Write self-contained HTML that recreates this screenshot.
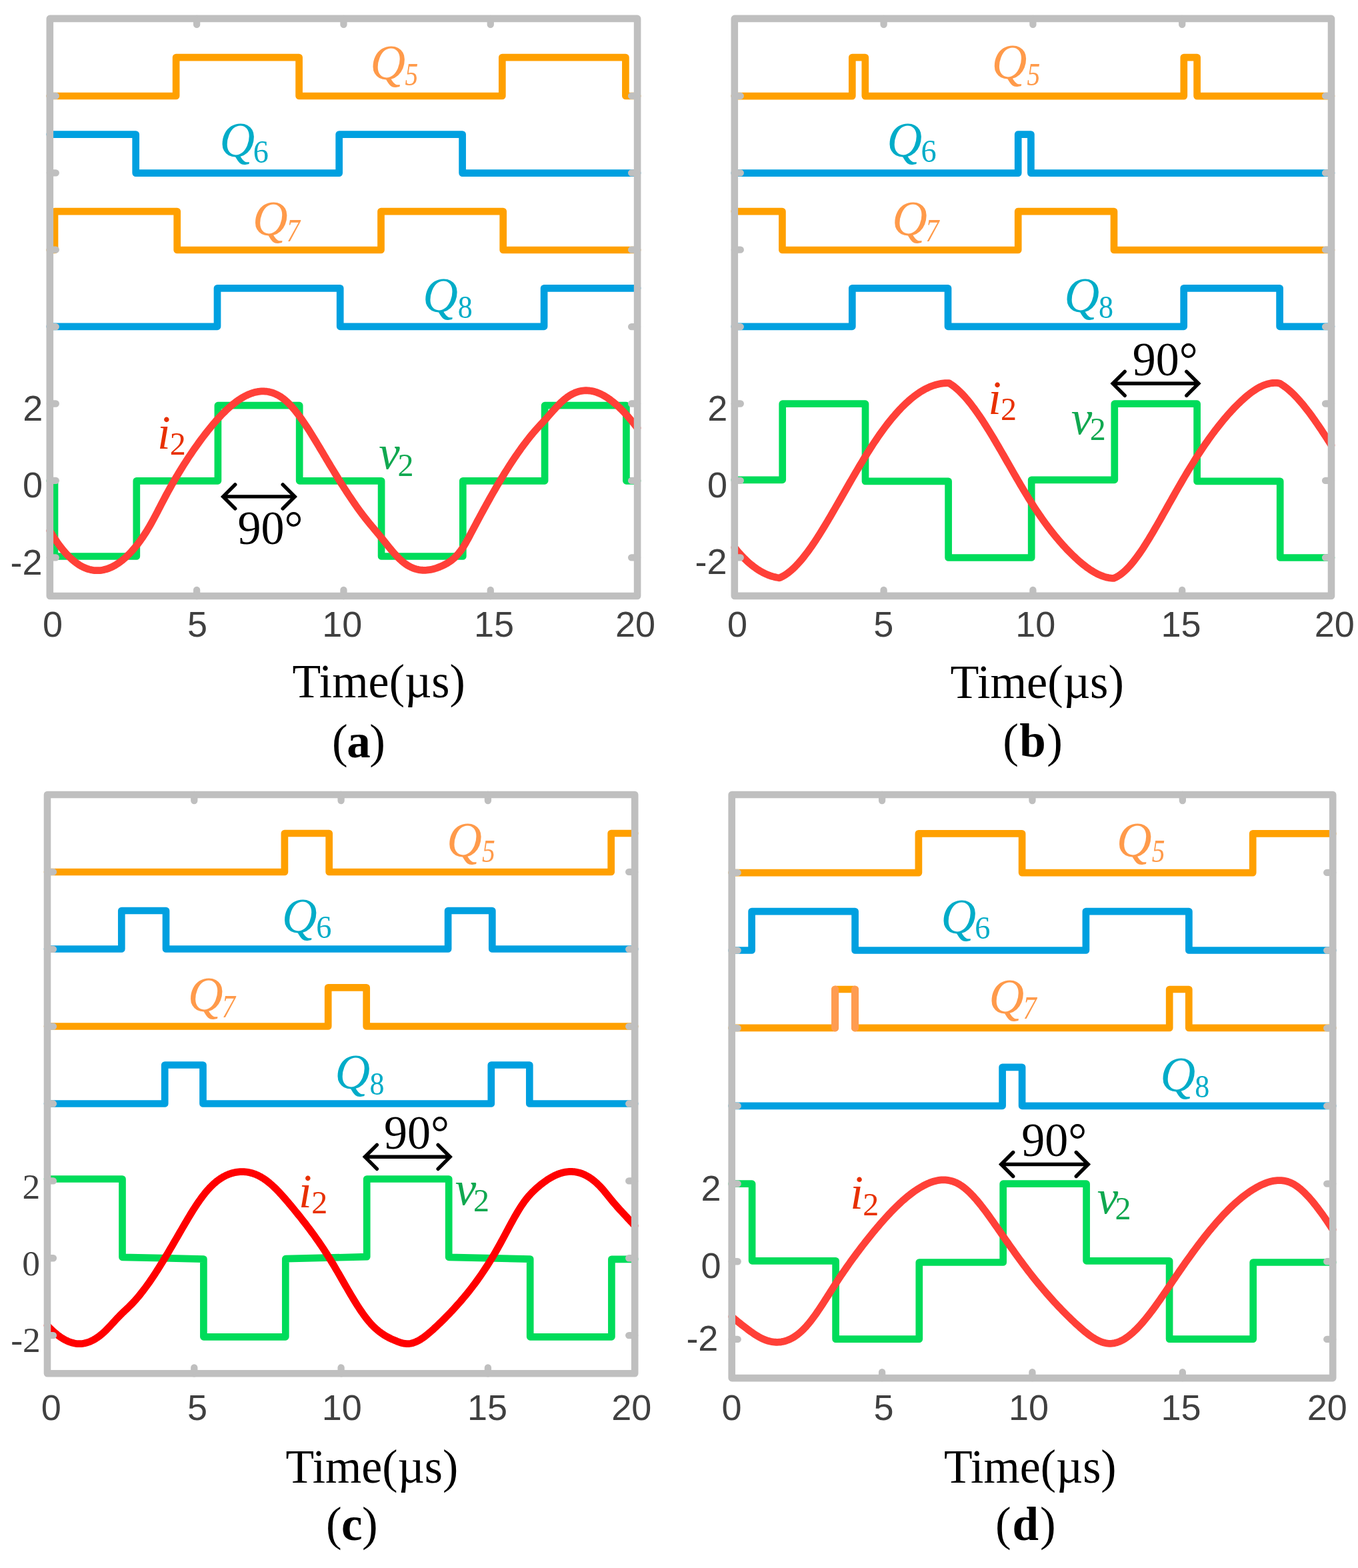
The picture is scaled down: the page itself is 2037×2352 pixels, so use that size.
<!DOCTYPE html>
<html lang="en">
<head>
<meta charset="utf-8">
<title>Waveforms</title>
<style>
html,body{margin:0;padding:0;background:#fff;}
body{width:2037px;height:2352px;overflow:hidden;}
svg{display:block;}
text{white-space:pre;}
</style>
</head>
<body>
<svg width="2037" height="2352" viewBox="0 0 2037 2352">
<rect width="2037" height="2352" fill="#fff"/>
<clipPath id="c1"><rect x="68.5" y="21.6" width="893.9" height="878.7"/></clipPath>
<g clip-path="url(#c1)">
<path d="M74.8 144 L264.1 144 L264.1 86.1 L448.6 86.1 L448.6 144 L753.3 144 L753.3 86.1 L938.4 86.1 L938.4 144 L956.1 144" fill="none" stroke="#ffa000" stroke-width="10.7" stroke-linejoin="round" stroke-linecap="round"/>
<path d="M74.8 201.6 L203.7 201.6 L203.7 259.6 L508.7 259.6 L508.7 201.6 L693.6 201.6 L693.6 259.6 L956.1 259.6" fill="none" stroke="#00a0e0" stroke-width="10.7" stroke-linejoin="round" stroke-linecap="round"/>
<path d="M74.8 375 L82 375 L82 317.1 L265.7 317.1 L265.7 375 L571.5 375 L571.5 317.1 L754.7 317.1 L754.7 375 L956.1 375" fill="none" stroke="#ffa000" stroke-width="10.7" stroke-linejoin="round" stroke-linecap="round"/>
<path d="M74.8 489.8 L326 489.8 L326 432.3 L510.2 432.3 L510.2 489.8 L816.1 489.8 L816.1 432.3 L956.1 432.3" fill="none" stroke="#00a0e0" stroke-width="10.7" stroke-linejoin="round" stroke-linecap="round"/>
<path d="M74.8 721.3 L82 721.3 L82 834.5 L204.8 834.5 L204.8 721.3 L326.9 721.3 L326.9 608.2 L449.2 608.2 L449.2 721.3 L572.1 721.3 L572.1 834.5 L694.3 834.5 L694.3 721.3 L817.1 721.3 L817.1 608.2 L939.4 608.2 L939.4 721.3 L956.1 721.3" fill="none" stroke="#00dc5a" stroke-width="10.7" stroke-linejoin="round" stroke-linecap="round"/>
<path d="M74.8 796.11 L76 798.17 L78 801.49 L80 804.71 L82 807.82 L84 810.84 L86 813.75 L88 816.56 L90 819.27 L92 821.88 L94 824.39 L96 826.8 L98 829.11 L100 831.32 L102 833.43 L104 835.44 L106 837.36 L108 839.18 L110 840.9 L112 842.52 L114 844.05 L116 845.48 L118 846.82 L120 848.06 L122 849.21 L124 850.26 L126 851.22 L128 852.08 L130 852.86 L132 853.54 L134 854.12 L136 854.62 L138 855.02 L140 855.33 L142 855.55 L144 855.68 L146 855.72 L148 855.67 L150 855.54 L152 855.31 L154 854.99 L156 854.59 L158 854.1 L160 853.52 L162 852.85 L164 852.1 L166 851.26 L168 850.34 L170 849.33 L172 848.23 L174 847.06 L176 845.79 L178 844.45 L180 843.02 L182 841.5 L184 839.91 L186 838.23 L188 836.47 L190 834.63 L192 832.7 L194 830.7 L196 828.6 L198 826.43 L200 824.16 L202 821.81 L204 819.37 L206 816.84 L208 814.22 L210 811.51 L212 808.71 L214 805.81 L216 802.82 L218 799.74 L220 796.56 L222 793.29 L224 789.92 L226 786.45 L228 782.88 L230 779.22 L232 775.5 L234 771.71 L236 767.89 L238 764.04 L240 760.17 L242 756.31 L244 752.47 L246 748.66 L248 744.89 L250 741.17 L252 737.49 L254 733.86 L256 730.27 L258 726.72 L260 723.22 L262 719.76 L264 716.34 L266 712.97 L268 709.63 L270 706.34 L272 703.08 L274 699.87 L276 696.69 L278 693.56 L280 690.46 L282 687.4 L284 684.38 L286 681.39 L288 678.45 L290 675.53 L292 672.66 L294 669.82 L296 667.01 L298 664.24 L300 661.5 L302 658.8 L304 656.13 L306 653.49 L308 650.89 L310 648.32 L312 645.78 L314 643.28 L316 640.82 L318 638.4 L320 636.02 L322 633.69 L324 631.39 L326 629.14 L328 626.93 L330 624.77 L332 622.66 L334 620.59 L336 618.58 L338 616.61 L340 614.7 L342 612.84 L344 611.03 L346 609.28 L348 607.59 L350 605.95 L352 604.38 L354 602.86 L356 601.4 L358 600.01 L360 598.68 L362 597.41 L364 596.21 L366 595.08 L368 594.02 L370 593.02 L372 592.09 L374 591.24 L376 590.46 L378 589.75 L380 589.12 L382 588.56 L384 588.08 L386 587.68 L388 587.36 L390 587.13 L392 586.97 L394 586.9 L396 586.92 L398 587.03 L400 587.23 L402 587.52 L404 587.91 L406 588.39 L408 588.97 L410 589.65 L412 590.42 L414 591.31 L416 592.29 L418 593.38 L420 594.58 L422 595.89 L424 597.31 L426 598.84 L428 600.49 L430 602.25 L432 604.12 L434 606.11 L436 608.2 L438 610.39 L440 612.68 L442 615.06 L444 617.53 L446 620.08 L448 622.72 L450 625.43 L452 628.21 L454 631.06 L456 633.98 L458 636.95 L460 639.98 L462 643.06 L464 646.18 L466 649.35 L468 652.56 L470 655.8 L472 659.07 L474 662.37 L476 665.69 L478 669.02 L480 672.37 L482 675.73 L484 679.09 L486 682.46 L488 685.82 L490 689.18 L492 692.52 L494 695.86 L496 699.19 L498 702.51 L500 705.81 L502 709.1 L504 712.37 L506 715.62 L508 718.85 L510 722.07 L512 725.26 L514 728.43 L516 731.57 L518 734.69 L520 737.78 L522 740.84 L524 743.87 L526 746.87 L528 749.83 L530 752.76 L532 755.66 L534 758.52 L536 761.33 L538 764.11 L540 766.85 L542 769.54 L544 772.19 L546 774.79 L548 777.35 L550 779.86 L552 782.34 L554 784.8 L556 787.22 L558 789.63 L560 792.03 L562 794.42 L564 796.82 L566 799.21 L568 801.62 L570 804.05 L572 806.49 L574 808.96 L576 811.45 L578 813.94 L580 816.42 L582 818.89 L584 821.34 L586 823.76 L588 826.13 L590 828.46 L592 830.73 L594 832.93 L596 835.06 L598 837.1 L600 839.05 L602 840.89 L604 842.63 L606 844.24 L608 845.73 L610 847.11 L612 848.36 L614 849.51 L616 850.54 L618 851.47 L620 852.29 L622 853 L624 853.61 L626 854.13 L628 854.55 L630 854.87 L632 855.1 L634 855.25 L636 855.31 L638 855.28 L640 855.17 L642 854.98 L644 854.72 L646 854.38 L648 853.97 L650 853.49 L652 852.94 L654 852.32 L656 851.65 L658 850.91 L660 850.12 L662 849.27 L664 848.37 L666 847.41 L668 846.39 L670 845.28 L672 844.09 L674 842.79 L676 841.39 L678 839.86 L680 838.19 L682 836.38 L684 834.41 L686 832.28 L688 829.97 L690 827.47 L692 824.77 L694 821.85 L696 818.72 L698 815.4 L700 811.91 L702 808.3 L704 804.59 L706 800.82 L708 797.02 L710 793.22 L712 789.44 L714 785.67 L716 781.91 L718 778.18 L720 774.46 L722 770.76 L724 767.08 L726 763.42 L728 759.78 L730 756.16 L732 752.56 L734 748.99 L736 745.44 L738 741.91 L740 738.41 L742 734.94 L744 731.49 L746 728.07 L748 724.68 L750 721.32 L752 717.99 L754 714.7 L756 711.43 L758 708.2 L760 705 L762 701.83 L764 698.7 L766 695.6 L768 692.55 L770 689.53 L772 686.54 L774 683.6 L776 680.7 L778 677.83 L780 675.01 L782 672.22 L784 669.48 L786 666.78 L788 664.13 L790 661.51 L792 658.95 L794 656.42 L796 653.94 L798 651.51 L800 649.12 L802 646.78 L804 644.49 L806 642.25 L808 640.05 L810 637.89 L812 635.74 L814 633.6 L816 631.44 L818 629.25 L820 627.03 L822 624.78 L824 622.52 L826 620.25 L828 617.99 L830 615.75 L832 613.53 L834 611.35 L836 609.22 L838 607.14 L840 605.13 L842 603.2 L844 601.35 L846 599.61 L848 597.96 L850 596.42 L852 594.99 L854 593.66 L856 592.44 L858 591.31 L860 590.3 L862 589.38 L864 588.57 L866 587.87 L868 587.27 L870 586.77 L872 586.37 L874 586.07 L876 585.86 L878 585.76 L880 585.74 L882 585.82 L884 586 L886 586.26 L888 586.61 L890 587.06 L892 587.58 L894 588.2 L896 588.89 L898 589.67 L900 590.54 L902 591.48 L904 592.49 L906 593.59 L908 594.76 L910 596.01 L912 597.33 L914 598.72 L916 600.18 L918 601.71 L920 603.31 L922 604.97 L924 606.7 L926 608.49 L928 610.34 L930 612.26 L932 614.23 L934 616.26 L936 618.35 L938 620.49 L940 622.69 L942 624.94 L944 627.24 L946 629.58 L948 631.98 L950 634.43 L952 636.92 L954 639.45 L956 642.03 L956.1 642.16" fill="none" stroke="#ff4038" stroke-width="10.8" stroke-linejoin="round" stroke-linecap="round"/>
</g>
<path d="M295.12 27.9 V36.9 M295.12 894 V885 M515.45 27.9 V36.9 M515.45 894 V885 M735.77 27.9 V36.9 M735.77 894 V885 M74.8 143.9 H83.8 M956.1 143.9 H947.1 M74.8 259.3 H83.8 M956.1 259.3 H947.1 M74.8 374.7 H83.8 M956.1 374.7 H947.1 M74.8 490.1 H83.8 M956.1 490.1 H947.1 M74.8 605.5 H83.8 M956.1 605.5 H947.1 M74.8 720.9 H83.8 M956.1 720.9 H947.1 M74.8 836.3 H83.8 M956.1 836.3 H947.1" fill="none" stroke="#bfbfbf" stroke-width="10.3" stroke-linecap="round"/>
<rect x="74.8" y="27.9" width="881.3" height="866.1" fill="none" stroke="#bfbfbf" stroke-width="10.6" stroke-linejoin="round"/>
<text x="555.49" y="118.8" font-family='"Liberation Serif","Times New Roman",serif' font-size="73" font-style="italic" fill="#ff9a4a">Q</text>
<text x="607.51" y="127.6" font-family='"Liberation Serif","Times New Roman",serif' font-size="49" font-style="italic" fill="#ff9a4a" textLength="19.67" lengthAdjust="spacingAndGlyphs">5</text>
<text x="329.38" y="234.6" font-family='"Liberation Serif","Times New Roman",serif' font-size="73" font-style="italic" fill="#00acc8">Q</text>
<text x="379.73" y="243.5" font-family='"Liberation Serif","Times New Roman",serif' font-size="49" fill="#00acc8" textLength="23.16" lengthAdjust="spacingAndGlyphs">6</text>
<text x="378.88" y="352.9" font-family='"Liberation Serif","Times New Roman",serif' font-size="73" font-style="italic" fill="#ff9a4a">Q</text>
<text x="429.77" y="362.1" font-family='"Liberation Serif","Times New Roman",serif' font-size="49" font-style="italic" fill="#ff9a4a" textLength="20.21" lengthAdjust="spacingAndGlyphs">7</text>
<text x="634.28" y="468.4" font-family='"Liberation Serif","Times New Roman",serif' font-size="73" font-style="italic" fill="#00acc8">Q</text>
<text x="686.75" y="477.1" font-family='"Liberation Serif","Times New Roman",serif' font-size="49" fill="#00acc8" textLength="22" lengthAdjust="spacingAndGlyphs">8</text>
<text x="235.9" y="673.1" font-family='"Liberation Serif","Times New Roman",serif' font-size="71" font-style="italic" fill="#e83000">i</text>
<text x="254.64" y="682" font-family='"Liberation Serif","Times New Roman",serif' font-size="48" fill="#e83000">2</text>
<text x="568.23" y="703.2" font-family='"Liberation Serif","Times New Roman",serif' font-size="71" font-style="italic" fill="#10a850">v</text>
<text x="596.44" y="713.5" font-family='"Liberation Serif","Times New Roman",serif' font-size="48" fill="#10a850">2</text>
<path d="M334.72 744.9 H442.18 M352.72 726.9 L334.72 744.9 L352.72 762.9 M424.18 726.9 L442.18 744.9 L424.18 762.9" fill="none" stroke="#000" stroke-width="5.4" stroke-linecap="round" stroke-linejoin="miter"/>
<text x="356.43" y="816.4" font-family='"Liberation Serif","Times New Roman",serif' font-size="71.5" fill="#000" textLength="97.97" lengthAdjust="spacingAndGlyphs">90°</text>
<text x="63.9" y="954.7" font-family='"Liberation Sans",Arial,sans-serif' font-size="54" fill="#404040">0</text>
<text x="281.12" y="954.7" font-family='"Liberation Sans",Arial,sans-serif' font-size="54" fill="#404040">5</text>
<text x="483.17" y="954.7" font-family='"Liberation Sans",Arial,sans-serif' font-size="54" fill="#404040">10</text>
<text x="710.99" y="954.7" font-family='"Liberation Sans",Arial,sans-serif' font-size="54" fill="#404040">15</text>
<text x="922.99" y="954.7" font-family='"Liberation Sans",Arial,sans-serif' font-size="54" fill="#404040">20</text>
<text x="34.13" y="631.4" font-family='"Liberation Sans",Arial,sans-serif' font-size="54" fill="#404040">2</text>
<text x="33.95" y="746" font-family='"Liberation Sans",Arial,sans-serif' font-size="54" fill="#404040">0</text>
<text x="15.57" y="861.6" font-family='"Liberation Sans",Arial,sans-serif' font-size="54" fill="#404040">-2</text>
<text x="438.58" y="1046.2" font-family='"Liberation Serif","Times New Roman",serif' font-size="71" fill="#000" textLength="259.11" lengthAdjust="spacingAndGlyphs">Time(µs)</text>
<text y="1135.7" font-family='"Liberation Serif","Times New Roman",serif' font-size="71" fill="#000"><tspan x="498">(</tspan><tspan x="520.23" font-weight="bold">a</tspan><tspan x="554.31">)</tspan></text>
<clipPath id="c2"><rect x="1095.5" y="21.6" width="907.8" height="878.6"/></clipPath>
<g clip-path="url(#c2)">
<path d="M1101.8 144.1 L1278.3 144.1 L1278.3 86.1 L1297.8 86.1 L1297.8 144.1 L1775.8 144.1 L1775.8 86.1 L1795.6 86.1 L1795.6 144.1 L1997 144.1" fill="none" stroke="#ffa000" stroke-width="10.7" stroke-linejoin="round" stroke-linecap="round"/>
<path d="M1101.8 259.6 L1527.2 259.6 L1527.2 201.6 L1546.4 201.6 L1546.4 259.6 L1997 259.6" fill="none" stroke="#00a0e0" stroke-width="10.7" stroke-linejoin="round" stroke-linecap="round"/>
<path d="M1101.8 317.1 L1173.4 317.1 L1173.4 375 L1527.2 375 L1527.2 317.1 L1671 317.1 L1671 375 L1997 375" fill="none" stroke="#ffa000" stroke-width="10.7" stroke-linejoin="round" stroke-linecap="round"/>
<path d="M1101.8 489.8 L1278.3 489.8 L1278.3 432.3 L1422 432.3 L1422 489.8 L1775.7 489.8 L1775.7 432.3 L1919.6 432.3 L1919.6 489.8 L1997 489.8" fill="none" stroke="#00a0e0" stroke-width="10.7" stroke-linejoin="round" stroke-linecap="round"/>
<path d="M1101.8 719.8 L1173.7 719.8 L1173.7 605.7 L1298 605.7 L1298 721.9 L1422.6 721.9 L1422.6 836.5 L1547.2 836.5 L1547.2 719.8 L1671.8 719.8 L1671.8 605.7 L1795.6 605.7 L1795.6 721.9 L1920.2 721.9 L1920.2 836.5 L1997 836.5" fill="none" stroke="#00dc5a" stroke-width="10.7" stroke-linejoin="round" stroke-linecap="round"/>
<path d="M1101.8 821.13 L1101.91 821.27 L1103.89 823.72 L1105.87 826.1 L1107.86 828.41 L1109.84 830.65 L1111.82 832.82 L1113.8 834.92 L1115.78 836.96 L1117.77 838.93 L1119.75 840.83 L1121.73 842.66 L1123.71 844.42 L1125.69 846.12 L1127.68 847.75 L1129.66 849.32 L1131.64 850.81 L1133.62 852.24 L1135.61 853.61 L1137.59 854.91 L1139.57 856.14 L1141.55 857.3 L1143.53 858.4 L1145.52 859.44 L1147.5 860.41 L1149.48 861.31 L1151.46 862.15 L1153.44 862.92 L1155.43 863.63 L1157.41 864.28 L1159.39 864.86 L1161.37 865.37 L1163.35 865.83 L1165.34 866.21 L1167.32 866.54 L1169.3 866.8 L1171.3 865.93 L1173.3 864.94 L1175.3 863.84 L1177.31 862.64 L1179.31 861.32 L1181.31 859.91 L1183.31 858.39 L1185.31 856.77 L1187.31 855.06 L1189.32 853.25 L1191.32 851.35 L1193.32 849.37 L1195.32 847.29 L1197.32 845.14 L1199.32 842.9 L1201.33 840.59 L1203.33 838.2 L1205.33 835.73 L1207.33 833.2 L1209.33 830.59 L1211.33 827.92 L1213.33 825.19 L1215.34 822.4 L1217.34 819.55 L1219.34 816.64 L1221.34 813.68 L1223.34 810.67 L1225.34 807.61 L1227.35 804.5 L1229.35 801.36 L1231.35 798.17 L1233.35 794.94 L1235.35 791.68 L1237.35 788.39 L1239.36 785.06 L1241.36 781.71 L1243.36 778.33 L1245.36 774.93 L1247.36 771.51 L1249.36 768.08 L1251.36 764.62 L1253.37 761.16 L1255.37 757.68 L1257.37 754.2 L1259.37 750.71 L1261.37 747.22 L1263.37 743.72 L1265.38 740.23 L1267.38 736.74 L1269.38 733.25 L1271.38 729.76 L1273.38 726.28 L1275.38 722.81 L1277.39 719.35 L1279.39 715.9 L1281.39 712.46 L1283.39 709.04 L1285.39 705.63 L1287.39 702.25 L1289.39 698.88 L1291.4 695.54 L1293.4 692.21 L1295.4 688.92 L1297.4 685.65 L1299.4 682.4 L1301.4 679.19 L1303.41 676.01 L1305.41 672.87 L1307.41 669.76 L1309.41 666.68 L1311.41 663.65 L1313.41 660.65 L1315.41 657.7 L1317.42 654.79 L1319.42 651.92 L1321.42 649.1 L1323.42 646.32 L1325.42 643.59 L1327.42 640.9 L1329.43 638.26 L1331.43 635.67 L1333.43 633.12 L1335.43 630.62 L1337.43 628.17 L1339.43 625.77 L1341.44 623.41 L1343.44 621.11 L1345.44 618.85 L1347.44 616.65 L1349.44 614.49 L1351.44 612.39 L1353.44 610.34 L1355.45 608.34 L1357.45 606.39 L1359.45 604.5 L1361.45 602.66 L1363.45 600.87 L1365.45 599.14 L1367.46 597.47 L1369.46 595.84 L1371.46 594.28 L1373.46 592.77 L1375.46 591.32 L1377.46 589.92 L1379.47 588.59 L1381.47 587.31 L1383.47 586.09 L1385.47 584.92 L1387.47 583.82 L1389.47 582.78 L1391.47 581.8 L1393.48 580.88 L1395.48 580.02 L1397.48 579.22 L1399.48 578.49 L1401.48 577.81 L1403.48 577.21 L1405.49 576.66 L1407.49 576.18 L1409.49 575.76 L1411.49 575.41 L1413.49 575.13 L1415.49 574.91 L1417.5 574.75 L1419.5 574.67 L1421.5 574.65 L1423.5 574.7 L1425.49 575.92 L1427.48 577.23 L1429.48 578.65 L1431.47 580.16 L1433.46 581.77 L1435.45 583.46 L1437.44 585.25 L1439.44 587.13 L1441.43 589.09 L1443.42 591.13 L1445.41 593.25 L1447.4 595.45 L1449.4 597.72 L1451.39 600.07 L1453.38 602.49 L1455.37 604.98 L1457.36 607.54 L1459.35 610.16 L1461.35 612.84 L1463.34 615.58 L1465.33 618.38 L1467.32 621.23 L1469.31 624.13 L1471.31 627.09 L1473.3 630.09 L1475.29 633.14 L1477.28 636.23 L1479.27 639.37 L1481.27 642.54 L1483.26 645.75 L1485.25 648.99 L1487.24 652.27 L1489.23 655.57 L1491.23 658.9 L1493.22 662.26 L1495.21 665.64 L1497.2 669.04 L1499.19 672.46 L1501.19 675.89 L1503.18 679.34 L1505.17 682.79 L1507.16 686.26 L1509.15 689.73 L1511.15 693.21 L1513.14 696.69 L1515.13 700.17 L1517.12 703.65 L1519.11 707.12 L1521.1 710.58 L1523.1 714.03 L1525.09 717.48 L1527.08 720.9 L1529.07 724.32 L1531.06 727.71 L1533.06 731.08 L1535.05 734.43 L1537.04 737.75 L1539.03 741.04 L1541.02 744.31 L1543.02 747.54 L1545.01 750.73 L1547 753.89 L1548.99 757.01 L1550.98 760.09 L1552.98 763.13 L1554.97 766.14 L1556.96 769.1 L1558.95 772.02 L1560.94 774.91 L1562.94 777.76 L1564.93 780.57 L1566.92 783.33 L1568.91 786.06 L1570.9 788.76 L1572.9 791.41 L1574.89 794.02 L1576.88 796.6 L1578.87 799.13 L1580.86 801.63 L1582.85 804.09 L1584.85 806.51 L1586.84 808.89 L1588.83 811.23 L1590.82 813.53 L1592.81 815.79 L1594.81 818.02 L1596.8 820.2 L1598.79 822.35 L1600.78 824.46 L1602.77 826.53 L1604.77 828.56 L1606.76 830.55 L1608.75 832.51 L1610.74 834.42 L1612.73 836.3 L1614.73 838.14 L1616.72 839.94 L1618.71 841.69 L1620.7 843.41 L1622.69 845.08 L1624.69 846.71 L1626.68 848.29 L1628.67 849.82 L1630.66 851.3 L1632.65 852.72 L1634.65 854.09 L1636.64 855.41 L1638.63 856.66 L1640.62 857.86 L1642.61 859 L1644.6 860.07 L1646.6 861.07 L1648.59 862.01 L1650.58 862.88 L1652.57 863.68 L1654.56 864.41 L1656.56 865.06 L1658.55 865.64 L1660.54 866.14 L1662.53 866.56 L1664.52 866.89 L1666.52 867.15 L1668.51 867.32 L1670.5 867.4 L1672.51 866.58 L1674.51 865.61 L1676.52 864.5 L1678.53 863.26 L1680.54 861.88 L1682.54 860.38 L1684.55 858.76 L1686.56 857.01 L1688.57 855.15 L1690.57 853.18 L1692.58 851.1 L1694.59 848.91 L1696.59 846.63 L1698.6 844.24 L1700.61 841.77 L1702.62 839.2 L1704.62 836.55 L1706.63 833.82 L1708.64 831 L1710.65 828.12 L1712.65 825.16 L1714.66 822.14 L1716.67 819.06 L1718.67 815.92 L1720.68 812.72 L1722.69 809.47 L1724.7 806.17 L1726.7 802.83 L1728.71 799.45 L1730.72 796.04 L1732.73 792.59 L1734.73 789.12 L1736.74 785.62 L1738.75 782.1 L1740.75 778.56 L1742.76 775.01 L1744.77 771.45 L1746.78 767.89 L1748.78 764.32 L1750.79 760.75 L1752.8 757.19 L1754.8 753.62 L1756.81 750.06 L1758.82 746.51 L1760.83 742.97 L1762.83 739.43 L1764.84 735.91 L1766.85 732.4 L1768.86 728.91 L1770.86 725.44 L1772.87 721.98 L1774.88 718.55 L1776.88 715.13 L1778.89 711.75 L1780.9 708.39 L1782.91 705.06 L1784.91 701.75 L1786.92 698.48 L1788.93 695.25 L1790.94 692.04 L1792.94 688.87 L1794.95 685.72 L1796.96 682.62 L1798.96 679.54 L1800.97 676.5 L1802.98 673.49 L1804.99 670.51 L1806.99 667.57 L1809 664.66 L1811.01 661.79 L1813.02 658.95 L1815.02 656.15 L1817.03 653.38 L1819.04 650.65 L1821.04 647.96 L1823.05 645.3 L1825.06 642.68 L1827.07 640.09 L1829.07 637.55 L1831.08 635.04 L1833.09 632.57 L1835.1 630.13 L1837.1 627.74 L1839.11 625.38 L1841.12 623.07 L1843.12 620.79 L1845.13 618.55 L1847.14 616.35 L1849.15 614.2 L1851.15 612.08 L1853.16 610 L1855.17 607.97 L1857.18 605.98 L1859.18 604.02 L1861.19 602.12 L1863.2 600.25 L1865.2 598.43 L1867.21 596.65 L1869.22 594.92 L1871.23 593.24 L1873.23 591.62 L1875.24 590.05 L1877.25 588.54 L1879.25 587.09 L1881.26 585.71 L1883.27 584.39 L1885.28 583.14 L1887.28 581.96 L1889.29 580.86 L1891.3 579.83 L1893.31 578.89 L1895.31 578.02 L1897.32 577.24 L1899.33 576.55 L1901.33 575.95 L1903.34 575.44 L1905.35 575.02 L1907.36 574.71 L1909.36 574.49 L1911.37 574.38 L1913.38 574.37 L1915.39 574.47 L1917.39 574.68 L1919.4 575 L1921.41 576.18 L1923.43 577.45 L1925.44 578.8 L1927.46 580.25 L1929.47 581.78 L1931.49 583.4 L1933.5 585.1 L1935.51 586.87 L1937.53 588.72 L1939.54 590.65 L1941.56 592.65 L1943.57 594.72 L1945.59 596.86 L1947.6 599.07 L1949.61 601.34 L1951.63 603.67 L1953.64 606.06 L1955.66 608.51 L1957.67 611.01 L1959.69 613.57 L1961.7 616.18 L1963.71 618.84 L1965.73 621.54 L1967.74 624.29 L1969.76 627.08 L1971.77 629.92 L1973.79 632.79 L1975.8 635.7 L1977.81 638.64 L1979.83 641.61 L1981.84 644.61 L1983.86 647.64 L1985.87 650.7 L1987.89 653.78 L1989.9 656.88 L1991.91 660 L1993.93 663.14 L1995.94 666.29 L1997 667.95" fill="none" stroke="#ff4038" stroke-width="10.8" stroke-linejoin="round" stroke-linecap="round"/>
</g>
<path d="M1325.6 27.9 V36.9 M1325.6 893.9 V884.9 M1549.4 27.9 V36.9 M1549.4 893.9 V884.9 M1773.2 27.9 V36.9 M1773.2 893.9 V884.9 M1101.8 143.9 H1110.8 M1997 143.9 H1988 M1101.8 259.3 H1110.8 M1997 259.3 H1988 M1101.8 374.7 H1110.8 M1997 374.7 H1988 M1101.8 490.1 H1110.8 M1997 490.1 H1988 M1101.8 605.5 H1110.8 M1997 605.5 H1988 M1101.8 720.9 H1110.8 M1997 720.9 H1988 M1101.8 836.3 H1110.8 M1997 836.3 H1988" fill="none" stroke="#bfbfbf" stroke-width="10.3" stroke-linecap="round"/>
<rect x="1101.8" y="27.9" width="895.2" height="866" fill="none" stroke="#bfbfbf" stroke-width="10.6" stroke-linejoin="round"/>
<text x="1487.78" y="118.3" font-family='"Liberation Serif","Times New Roman",serif' font-size="73" font-style="italic" fill="#ff9a4a">Q</text>
<text x="1540.51" y="127.5" font-family='"Liberation Serif","Times New Roman",serif' font-size="49" font-style="italic" fill="#ff9a4a" textLength="19.67" lengthAdjust="spacingAndGlyphs">5</text>
<text x="1330.58" y="234.6" font-family='"Liberation Serif","Times New Roman",serif' font-size="73" font-style="italic" fill="#00acc8">Q</text>
<text x="1381.43" y="243" font-family='"Liberation Serif","Times New Roman",serif' font-size="49" fill="#00acc8" textLength="23.16" lengthAdjust="spacingAndGlyphs">6</text>
<text x="1338.28" y="352.9" font-family='"Liberation Serif","Times New Roman",serif' font-size="73" font-style="italic" fill="#ff9a4a">Q</text>
<text x="1388.37" y="362.1" font-family='"Liberation Serif","Times New Roman",serif' font-size="49" font-style="italic" fill="#ff9a4a" textLength="20.21" lengthAdjust="spacingAndGlyphs">7</text>
<text x="1596.58" y="468.4" font-family='"Liberation Serif","Times New Roman",serif' font-size="73" font-style="italic" fill="#00acc8">Q</text>
<text x="1647.95" y="477.1" font-family='"Liberation Serif","Times New Roman",serif' font-size="49" fill="#00acc8" textLength="22" lengthAdjust="spacingAndGlyphs">8</text>
<text x="1482.3" y="621" font-family='"Liberation Serif","Times New Roman",serif' font-size="71" font-style="italic" fill="#e83000">i</text>
<text x="1501.04" y="629.5" font-family='"Liberation Serif","Times New Roman",serif' font-size="48" fill="#e83000">2</text>
<text x="1606.63" y="650.7" font-family='"Liberation Serif","Times New Roman",serif' font-size="71" font-style="italic" fill="#10a850">v</text>
<text x="1634.84" y="660.4" font-family='"Liberation Serif","Times New Roman",serif' font-size="48" fill="#10a850">2</text>
<path d="M1669.22 575.3 H1797.78 M1687.22 557.3 L1669.22 575.3 L1687.22 593.3 M1779.78 557.3 L1797.78 575.3 L1779.78 593.3" fill="none" stroke="#000" stroke-width="5.4" stroke-linecap="round" stroke-linejoin="miter"/>
<text x="1698.83" y="562.5" font-family='"Liberation Serif","Times New Roman",serif' font-size="71.5" fill="#000" textLength="97.97" lengthAdjust="spacingAndGlyphs">90°</text>
<text x="1090.9" y="954.9" font-family='"Liberation Sans",Arial,sans-serif' font-size="54" fill="#404040">0</text>
<text x="1310.21" y="954.9" font-family='"Liberation Sans",Arial,sans-serif' font-size="54" fill="#404040">5</text>
<text x="1523.22" y="954.9" font-family='"Liberation Sans",Arial,sans-serif' font-size="54" fill="#404040">10</text>
<text x="1741.39" y="954.9" font-family='"Liberation Sans",Arial,sans-serif' font-size="54" fill="#404040">15</text>
<text x="1971.84" y="954.9" font-family='"Liberation Sans",Arial,sans-serif' font-size="54" fill="#404040">20</text>
<text x="1061.33" y="631" font-family='"Liberation Sans",Arial,sans-serif' font-size="54" fill="#404040">2</text>
<text x="1061.06" y="746" font-family='"Liberation Sans",Arial,sans-serif' font-size="54" fill="#404040">0</text>
<text x="1042.58" y="861.2" font-family='"Liberation Sans",Arial,sans-serif' font-size="54" fill="#404040">-2</text>
<text x="1425.57" y="1046.9" font-family='"Liberation Serif","Times New Roman",serif' font-size="71" fill="#000" textLength="260.23" lengthAdjust="spacingAndGlyphs">Time(µs)</text>
<text y="1134.9" font-family='"Liberation Serif","Times New Roman",serif' font-size="71" fill="#000"><tspan x="1504.21">(</tspan><tspan x="1529.34" font-weight="bold">b</tspan><tspan x="1570.31">)</tspan></text>
<clipPath id="c3"><rect x="64.7" y="1185.7" width="893.8" height="880.9"/></clipPath>
<g clip-path="url(#c3)">
<path d="M71 1308 L426.9 1308 L426.9 1250 L493.7 1250 L493.7 1308 L916.7 1308 L916.7 1250 L952.2 1250" fill="none" stroke="#ffa000" stroke-width="10.7" stroke-linejoin="round" stroke-linecap="round"/>
<path d="M71 1423.5 L182.3 1423.5 L182.3 1366 L249 1366 L249 1423.5 L672.1 1423.5 L672.1 1366 L738.3 1366 L738.3 1423.5 L952.2 1423.5" fill="none" stroke="#00a0e0" stroke-width="10.7" stroke-linejoin="round" stroke-linecap="round"/>
<path d="M71 1539.5 L492.2 1539.5 L492.2 1481.4 L549.7 1481.4 L549.7 1539.5 L952.2 1539.5" fill="none" stroke="#ffa000" stroke-width="10.7" stroke-linejoin="round" stroke-linecap="round"/>
<path d="M71 1655.5 L247.2 1655.5 L247.2 1597.5 L304.5 1597.5 L304.5 1655.5 L736.8 1655.5 L736.8 1597.5 L794.3 1597.5 L794.3 1655.5 L952.2 1655.5" fill="none" stroke="#00a0e0" stroke-width="10.7" stroke-linejoin="round" stroke-linecap="round"/>
<path d="M71 1768.5 L183.5 1768.5 L183.5 1885.8 L305.4 1888.6 L305.4 2005.3 L428.3 2005.3 L428.3 1888.2 L550.2 1885.2 L550.2 1768.5 L673.2 1768.5 L673.2 1885.8 L795.2 1888.6 L795.2 2005.3 L917.4 2005.3 L917.4 1888.8 L952.2 1888.8" fill="none" stroke="#00dc5a" stroke-width="10.7" stroke-linejoin="round" stroke-linecap="round"/>
<path d="M71 1988.27 L72 1989.33 L74 1991.39 L76 1993.38 L78 1995.3 L80 1997.13 L82 1998.89 L84 2000.58 L86 2002.18 L88 2003.7 L90 2005.14 L92 2006.49 L94 2007.75 L96 2008.93 L98 2010.02 L100 2011.02 L102 2011.93 L104 2012.74 L106 2013.45 L108 2014.07 L110 2014.59 L112 2015.02 L114 2015.33 L116 2015.55 L118 2015.66 L120 2015.67 L122 2015.57 L124 2015.36 L126 2015.04 L128 2014.62 L130 2014.1 L132 2013.47 L134 2012.74 L136 2011.91 L138 2010.97 L140 2009.94 L142 2008.81 L144 2007.58 L146 2006.26 L148 2004.84 L150 2003.33 L152 2001.72 L154 2000.02 L156 1998.23 L158 1996.35 L160 1994.38 L162 1992.34 L164 1990.24 L166 1988.1 L168 1985.93 L170 1983.75 L172 1981.56 L174 1979.39 L176 1977.25 L178 1975.16 L180 1973.11 L182 1971.12 L184 1969.17 L186 1967.26 L188 1965.37 L190 1963.49 L192 1961.59 L194 1959.67 L196 1957.69 L198 1955.65 L200 1953.54 L202 1951.36 L204 1949.11 L206 1946.8 L208 1944.42 L210 1941.98 L212 1939.48 L214 1936.92 L216 1934.3 L218 1931.63 L220 1928.9 L222 1926.11 L224 1923.28 L226 1920.39 L228 1917.46 L230 1914.48 L232 1911.46 L234 1908.39 L236 1905.27 L238 1902.12 L240 1898.93 L242 1895.71 L244 1892.45 L246 1889.16 L248 1885.84 L250 1882.5 L252 1879.14 L254 1875.76 L256 1872.36 L258 1868.94 L260 1865.51 L262 1862.08 L264 1858.63 L266 1855.19 L268 1851.74 L270 1848.29 L272 1844.85 L274 1841.41 L276 1837.98 L278 1834.57 L280 1831.17 L282 1827.8 L284 1824.47 L286 1821.17 L288 1817.93 L290 1814.73 L292 1811.59 L294 1808.52 L296 1805.52 L298 1802.59 L300 1799.75 L302 1796.98 L304 1794.3 L306 1791.71 L308 1789.21 L310 1786.81 L312 1784.51 L314 1782.31 L316 1780.21 L318 1778.22 L320 1776.33 L322 1774.54 L324 1772.85 L326 1771.26 L328 1769.76 L330 1768.36 L332 1767.05 L334 1765.83 L336 1764.71 L338 1763.67 L340 1762.72 L342 1761.85 L344 1761.07 L346 1760.36 L348 1759.74 L350 1759.2 L352 1758.74 L354 1758.35 L356 1758.04 L358 1757.81 L360 1757.65 L362 1757.57 L364 1757.56 L366 1757.63 L368 1757.78 L370 1758.01 L372 1758.32 L374 1758.71 L376 1759.17 L378 1759.72 L380 1760.35 L382 1761.06 L384 1761.85 L386 1762.72 L388 1763.67 L390 1764.71 L392 1765.83 L394 1767.03 L396 1768.32 L398 1769.69 L400 1771.14 L402 1772.68 L404 1774.3 L406 1776 L408 1777.77 L410 1779.61 L412 1781.51 L414 1783.47 L416 1785.5 L418 1787.57 L420 1789.7 L422 1791.87 L424 1794.09 L426 1796.34 L428 1798.64 L430 1800.96 L432 1803.31 L434 1805.68 L436 1808.07 L438 1810.48 L440 1812.91 L442 1815.34 L444 1817.79 L446 1820.26 L448 1822.74 L450 1825.23 L452 1827.75 L454 1830.29 L456 1832.84 L458 1835.42 L460 1838.02 L462 1840.65 L464 1843.31 L466 1845.99 L468 1848.7 L470 1851.43 L472 1854.2 L474 1857.01 L476 1859.84 L478 1862.71 L480 1865.61 L482 1868.56 L484 1871.54 L486 1874.56 L488 1877.62 L490 1880.72 L492 1883.87 L494 1887.06 L496 1890.29 L498 1893.57 L500 1896.9 L502 1900.27 L504 1903.67 L506 1907.1 L508 1910.55 L510 1914.02 L512 1917.5 L514 1920.98 L516 1924.47 L518 1927.95 L520 1931.41 L522 1934.86 L524 1938.29 L526 1941.69 L528 1945.05 L530 1948.37 L532 1951.65 L534 1954.87 L536 1958.04 L538 1961.14 L540 1964.18 L542 1967.14 L544 1970.02 L546 1972.82 L548 1975.52 L550 1978.13 L552 1980.63 L554 1983.03 L556 1985.31 L558 1987.47 L560 1989.52 L562 1991.46 L564 1993.29 L566 1995.02 L568 1996.66 L570 1998.21 L572 1999.67 L574 2001.05 L576 2002.35 L578 2003.58 L580 2004.74 L582 2005.84 L584 2006.88 L586 2007.87 L588 2008.8 L590 2009.7 L592 2010.55 L594 2011.37 L596 2012.16 L598 2012.91 L600 2013.6 L602 2014.22 L604 2014.75 L606 2015.18 L608 2015.49 L610 2015.65 L612 2015.66 L614 2015.52 L616 2015.23 L618 2014.79 L620 2014.22 L622 2013.52 L624 2012.7 L626 2011.76 L628 2010.72 L630 2009.57 L632 2008.33 L634 2006.99 L636 2005.58 L638 2004.09 L640 2002.53 L642 2000.9 L644 1999.22 L646 1997.49 L648 1995.72 L650 1993.91 L652 1992.07 L654 1990.21 L656 1988.33 L658 1986.42 L660 1984.5 L662 1982.56 L664 1980.6 L666 1978.61 L668 1976.61 L670 1974.58 L672 1972.53 L674 1970.45 L676 1968.35 L678 1966.23 L680 1964.08 L682 1961.9 L684 1959.7 L686 1957.47 L688 1955.22 L690 1952.93 L692 1950.62 L694 1948.28 L696 1945.9 L698 1943.5 L700 1941.06 L702 1938.58 L704 1936.07 L706 1933.53 L708 1930.95 L710 1928.32 L712 1925.66 L714 1922.96 L716 1920.22 L718 1917.43 L720 1914.6 L722 1911.72 L724 1908.8 L726 1905.83 L728 1902.81 L730 1899.74 L732 1896.62 L734 1893.45 L736 1890.23 L738 1886.95 L740 1883.62 L742 1880.23 L744 1876.78 L746 1873.28 L748 1869.72 L750 1866.09 L752 1862.42 L754 1858.72 L756 1854.98 L758 1851.23 L760 1847.48 L762 1843.73 L764 1840 L766 1836.29 L768 1832.62 L770 1829 L772 1825.44 L774 1821.95 L776 1818.54 L778 1815.22 L780 1812 L782 1808.9 L784 1805.92 L786 1803.07 L788 1800.37 L790 1797.81 L792 1795.39 L794 1793.08 L796 1790.89 L798 1788.8 L800 1786.8 L802 1784.89 L804 1783.05 L806 1781.27 L808 1779.55 L810 1777.88 L812 1776.26 L814 1774.7 L816 1773.2 L818 1771.76 L820 1770.38 L822 1769.05 L824 1767.79 L826 1766.6 L828 1765.47 L830 1764.41 L832 1763.42 L834 1762.5 L836 1761.65 L838 1760.87 L840 1760.16 L842 1759.54 L844 1758.99 L846 1758.51 L848 1758.12 L850 1757.81 L852 1757.59 L854 1757.44 L856 1757.39 L858 1757.42 L860 1757.54 L862 1757.74 L864 1758.04 L866 1758.43 L868 1758.91 L870 1759.48 L872 1760.14 L874 1760.9 L876 1761.75 L878 1762.69 L880 1763.73 L882 1764.87 L884 1766.1 L886 1767.43 L888 1768.86 L890 1770.39 L892 1772.02 L894 1773.75 L896 1775.58 L898 1777.52 L900 1779.55 L902 1781.69 L904 1783.94 L906 1786.28 L908 1788.71 L910 1791.18 L912 1793.68 L914 1796.17 L916 1798.64 L918 1801.06 L920 1803.44 L922 1805.77 L924 1808.07 L926 1810.34 L928 1812.57 L930 1814.78 L932 1816.96 L934 1819.13 L936 1821.28 L938 1823.42 L940 1825.55 L942 1827.68 L944 1829.8 L946 1831.93 L948 1834.07 L950 1836.22 L952 1838.38 L952.2 1838.6" fill="none" stroke="#ff0000" stroke-width="10.8" stroke-linejoin="round" stroke-linecap="round"/>
</g>
<path d="M291.3 1192 V1201 M291.3 2060.3 V2051.3 M511.6 1192 V1201 M511.6 2060.3 V2051.3 M731.9 1192 V1201 M731.9 2060.3 V2051.3 M71 1307.94 H80 M952.2 1307.94 H943.2 M71 1423.8 H80 M952.2 1423.8 H943.2 M71 1539.66 H80 M952.2 1539.66 H943.2 M71 1655.52 H80 M952.2 1655.52 H943.2 M71 1771.38 H80 M952.2 1771.38 H943.2 M71 1887.24 H80 M952.2 1887.24 H943.2 M71 2003.1 H80 M952.2 2003.1 H943.2" fill="none" stroke="#bfbfbf" stroke-width="10.3" stroke-linecap="round"/>
<rect x="71" y="1192" width="881.2" height="868.3" fill="none" stroke="#bfbfbf" stroke-width="10.6" stroke-linejoin="round"/>
<text x="670.28" y="1284.6" font-family='"Liberation Serif","Times New Roman",serif' font-size="73" font-style="italic" fill="#ff9a4a">Q</text>
<text x="723.01" y="1293" font-family='"Liberation Serif","Times New Roman",serif' font-size="49" font-style="italic" fill="#ff9a4a" textLength="19.67" lengthAdjust="spacingAndGlyphs">5</text>
<text x="422.99" y="1398.8" font-family='"Liberation Serif","Times New Roman",serif' font-size="73" font-style="italic" fill="#00acc8">Q</text>
<text x="474.33" y="1407.2" font-family='"Liberation Serif","Times New Roman",serif' font-size="49" fill="#00acc8" textLength="23.16" lengthAdjust="spacingAndGlyphs">6</text>
<text x="281.88" y="1517" font-family='"Liberation Serif","Times New Roman",serif' font-size="73" font-style="italic" fill="#ff9a4a">Q</text>
<text x="332.77" y="1526.2" font-family='"Liberation Serif","Times New Roman",serif' font-size="49" font-style="italic" fill="#ff9a4a" textLength="20.21" lengthAdjust="spacingAndGlyphs">7</text>
<text x="502.59" y="1633.3" font-family='"Liberation Serif","Times New Roman",serif' font-size="73" font-style="italic" fill="#00acc8">Q</text>
<text x="554.55" y="1641.7" font-family='"Liberation Serif","Times New Roman",serif' font-size="49" fill="#00acc8" textLength="22" lengthAdjust="spacingAndGlyphs">8</text>
<text x="448.1" y="1810.7" font-family='"Liberation Serif","Times New Roman",serif' font-size="71" font-style="italic" fill="#e83000">i</text>
<text x="467.14" y="1820.4" font-family='"Liberation Serif","Times New Roman",serif' font-size="48" fill="#e83000">2</text>
<text x="682.63" y="1806.5" font-family='"Liberation Serif","Times New Roman",serif' font-size="71" font-style="italic" fill="#10a850">v</text>
<text x="709.94" y="1816.8" font-family='"Liberation Serif","Times New Roman",serif' font-size="48" fill="#10a850">2</text>
<path d="M547.42 1735.3 H675.08 M565.42 1717.3 L547.42 1735.3 L565.42 1753.3 M657.08 1717.3 L675.08 1735.3 L657.08 1753.3" fill="none" stroke="#000" stroke-width="5.4" stroke-linecap="round" stroke-linejoin="miter"/>
<text x="575.93" y="1722.5" font-family='"Liberation Serif","Times New Roman",serif' font-size="71.5" fill="#000" textLength="97.97" lengthAdjust="spacingAndGlyphs">90°</text>
<text x="61.75" y="2130.3" font-family='"Liberation Sans",Arial,sans-serif' font-size="54" fill="#404040">0</text>
<text x="280.97" y="2130.3" font-family='"Liberation Sans",Arial,sans-serif' font-size="54" fill="#404040">5</text>
<text x="482.72" y="2130.3" font-family='"Liberation Sans",Arial,sans-serif' font-size="54" fill="#404040">10</text>
<text x="700.99" y="2130.3" font-family='"Liberation Sans",Arial,sans-serif' font-size="54" fill="#404040">15</text>
<text x="917.34" y="2130.3" font-family='"Liberation Sans",Arial,sans-serif' font-size="54" fill="#404040">20</text>
<text x="33.39" y="1798.1" font-family='"Liberation Serif","Times New Roman",serif' font-size="53.5" fill="#404040">2</text>
<text x="33.26" y="1913" font-family='"Liberation Serif","Times New Roman",serif' font-size="53.5" fill="#404040">0</text>
<text x="16.2" y="2028.3" font-family='"Liberation Serif","Times New Roman",serif' font-size="53.5" fill="#404040">-2</text>
<text x="428.48" y="2223.9" font-family='"Liberation Serif","Times New Roman",serif' font-size="71" fill="#000" textLength="258.7" lengthAdjust="spacingAndGlyphs">Time(µs)</text>
<text y="2310.4" font-family='"Liberation Serif","Times New Roman",serif' font-size="71" fill="#000"><tspan x="489.11">(</tspan><tspan x="512.07" font-weight="bold">c</tspan><tspan x="542.91">)</tspan></text>
<clipPath id="c4"><rect x="1091.4" y="1185.7" width="914.1" height="887.7"/></clipPath>
<g clip-path="url(#c4)">
<path d="M1097.7 1309.1 L1377.9 1309.1 L1377.9 1250.4 L1533.1 1250.4 L1533.1 1309.1 L1879.2 1309.1 L1879.2 1250.4 L1999.2 1250.4" fill="none" stroke="#ffa000" stroke-width="10.7" stroke-linejoin="round" stroke-linecap="round"/>
<path d="M1097.7 1425.5 L1127.6 1425.5 L1127.6 1367.1 L1282.6 1367.1 L1282.6 1425.5 L1628.9 1425.5 L1628.9 1367.1 L1783.4 1367.1 L1783.4 1425.5 L1999.2 1425.5" fill="none" stroke="#00a0e0" stroke-width="10.7" stroke-linejoin="round" stroke-linecap="round"/>
<path d="M1097.7 1541.9 L1252.6 1541.9 L1252.6 1484 L1282.5 1484 L1282.5 1541.9 L1754.2 1541.9 L1754.2 1484 L1783.3 1484 L1783.3 1541.9 L1999.2 1541.9" fill="none" stroke="#ffa000" stroke-width="10.7" stroke-linejoin="round" stroke-linecap="round"/>
<path d="M1252.6 1484 V1541.9" fill="none" stroke="#ff9c50" stroke-width="11.1" stroke-linecap="round"/>
<path d="M1282.5 1484 V1541.9" fill="none" stroke="#ff9c50" stroke-width="11.1" stroke-linecap="round"/>
<path d="M1097.7 1658.8 L1503.6 1658.8 L1503.6 1600.8 L1533.1 1600.8 L1533.1 1658.8 L1999.2 1658.8" fill="none" stroke="#00a0e0" stroke-width="10.7" stroke-linejoin="round" stroke-linecap="round"/>
<path d="M1097.7 1775.7 L1128.1 1775.7 L1128.1 1891.3 L1253.6 1891.3 L1253.6 2008.6 L1378.8 2008.6 L1378.8 1893.5 L1504.7 1893.5 L1504.7 1775.7 L1629.6 1775.7 L1629.6 1891.3 L1754.1 1891.3 L1754.1 2008.6 L1879.7 2008.6 L1879.7 1893.5 L1999.2 1893.5" fill="none" stroke="#00dc5a" stroke-width="10.7" stroke-linejoin="round" stroke-linecap="round"/>
<path d="M1097.7 1974.94 L1098 1975.2 L1100 1976.92 L1102 1978.61 L1104 1980.26 L1106 1981.89 L1108 1983.49 L1110 1985.08 L1112 1986.65 L1114 1988.2 L1116 1989.75 L1118 1991.29 L1120 1992.82 L1122 1994.32 L1124 1995.81 L1126 1997.26 L1128 1998.69 L1130 2000.07 L1132 2001.41 L1134 2002.7 L1136 2003.93 L1138 2005.11 L1140 2006.22 L1142 2007.26 L1144 2008.22 L1146 2009.11 L1148 2009.91 L1150 2010.63 L1152 2011.27 L1154 2011.82 L1156 2012.29 L1158 2012.66 L1160 2012.95 L1162 2013.15 L1164 2013.26 L1166 2013.28 L1168 2013.21 L1170 2013.04 L1172 2012.78 L1174 2012.43 L1176 2011.98 L1178 2011.43 L1180 2010.79 L1182 2010.05 L1184 2009.21 L1186 2008.27 L1188 2007.23 L1190 2006.08 L1192 2004.83 L1194 2003.48 L1196 2002.03 L1198 2000.46 L1200 1998.79 L1202 1997.02 L1204 1995.13 L1206 1993.14 L1208 1991.03 L1210 1988.82 L1212 1986.5 L1214 1984.09 L1216 1981.58 L1218 1979 L1220 1976.33 L1222 1973.59 L1224 1970.78 L1226 1967.91 L1228 1964.99 L1230 1962.02 L1232 1959 L1234 1955.95 L1236 1952.86 L1238 1949.75 L1240 1946.63 L1242 1943.49 L1244 1940.34 L1246 1937.19 L1248 1934.04 L1250 1930.91 L1252 1927.79 L1254 1924.7 L1256 1921.63 L1258 1918.59 L1260 1915.58 L1262 1912.59 L1264 1909.64 L1266 1906.71 L1268 1903.81 L1270 1900.93 L1272 1898.08 L1274 1895.25 L1276 1892.45 L1278 1889.67 L1280 1886.92 L1282 1884.19 L1284 1881.48 L1286 1878.8 L1288 1876.14 L1290 1873.5 L1292 1870.88 L1294 1868.28 L1296 1865.7 L1298 1863.14 L1300 1860.61 L1302 1858.09 L1304 1855.59 L1306 1853.11 L1308 1850.64 L1310 1848.2 L1312 1845.78 L1314 1843.38 L1316 1841 L1318 1838.64 L1320 1836.31 L1322 1834 L1324 1831.72 L1326 1829.47 L1328 1827.24 L1330 1825.04 L1332 1822.86 L1334 1820.72 L1336 1818.61 L1338 1816.53 L1340 1814.48 L1342 1812.46 L1344 1810.48 L1346 1808.53 L1348 1806.62 L1350 1804.74 L1352 1802.9 L1354 1801.1 L1356 1799.34 L1358 1797.61 L1360 1795.93 L1362 1794.29 L1364 1792.69 L1366 1791.13 L1368 1789.61 L1370 1788.14 L1372 1786.72 L1374 1785.34 L1376 1784.01 L1378 1782.73 L1380 1781.49 L1382 1780.31 L1384 1779.18 L1386 1778.1 L1388 1777.08 L1390 1776.11 L1392 1775.21 L1394 1774.37 L1396 1773.59 L1398 1772.88 L1400 1772.25 L1402 1771.68 L1404 1771.18 L1406 1770.76 L1408 1770.42 L1410 1770.16 L1412 1769.98 L1414 1769.88 L1416 1769.87 L1418 1769.94 L1420 1770.11 L1422 1770.37 L1424 1770.72 L1426 1771.17 L1428 1771.72 L1430 1772.37 L1432 1773.12 L1434 1773.98 L1436 1774.94 L1438 1776.02 L1440 1777.2 L1442 1778.5 L1444 1779.9 L1446 1781.41 L1448 1783.02 L1450 1784.72 L1452 1786.52 L1454 1788.41 L1456 1790.38 L1458 1792.43 L1460 1794.56 L1462 1796.77 L1464 1799.04 L1466 1801.38 L1468 1803.78 L1470 1806.24 L1472 1808.75 L1474 1811.32 L1476 1813.93 L1478 1816.58 L1480 1819.27 L1482 1822 L1484 1824.76 L1486 1827.55 L1488 1830.36 L1490 1833.19 L1492 1836.03 L1494 1838.89 L1496 1841.75 L1498 1844.63 L1500 1847.5 L1502 1850.37 L1504 1853.24 L1506 1856.1 L1508 1858.97 L1510 1861.82 L1512 1864.68 L1514 1867.52 L1516 1870.35 L1518 1873.18 L1520 1875.99 L1522 1878.79 L1524 1881.58 L1526 1884.35 L1528 1887.11 L1530 1889.85 L1532 1892.57 L1534 1895.27 L1536 1897.95 L1538 1900.61 L1540 1903.24 L1542 1905.86 L1544 1908.45 L1546 1911.02 L1548 1913.56 L1550 1916.09 L1552 1918.59 L1554 1921.07 L1556 1923.53 L1558 1925.96 L1560 1928.38 L1562 1930.77 L1564 1933.14 L1566 1935.49 L1568 1937.82 L1570 1940.13 L1572 1942.41 L1574 1944.68 L1576 1946.92 L1578 1949.14 L1580 1951.35 L1582 1953.53 L1584 1955.69 L1586 1957.83 L1588 1959.95 L1590 1962.05 L1592 1964.13 L1594 1966.19 L1596 1968.23 L1598 1970.25 L1600 1972.24 L1602 1974.22 L1604 1976.18 L1606 1978.12 L1608 1980.04 L1610 1981.94 L1612 1983.82 L1614 1985.69 L1616 1987.53 L1618 1989.35 L1620 1991.14 L1622 1992.91 L1624 1994.64 L1626 1996.33 L1628 1997.97 L1630 1999.57 L1632 2001.12 L1634 2002.61 L1636 2004.04 L1638 2005.41 L1640 2006.71 L1642 2007.93 L1644 2009.07 L1646 2010.14 L1648 2011.12 L1650 2012 L1652 2012.79 L1654 2013.49 L1656 2014.07 L1658 2014.56 L1660 2014.93 L1662 2015.18 L1664 2015.31 L1666 2015.32 L1668 2015.2 L1670 2014.95 L1672 2014.58 L1674 2014.09 L1676 2013.49 L1678 2012.77 L1680 2011.94 L1682 2011.01 L1684 2009.97 L1686 2008.82 L1688 2007.58 L1690 2006.24 L1692 2004.8 L1694 2003.27 L1696 2001.66 L1698 1999.96 L1700 1998.18 L1702 1996.31 L1704 1994.38 L1706 1992.36 L1708 1990.28 L1710 1988.12 L1712 1985.9 L1714 1983.62 L1716 1981.28 L1718 1978.88 L1720 1976.43 L1722 1973.92 L1724 1971.37 L1726 1968.77 L1728 1966.13 L1730 1963.44 L1732 1960.72 L1734 1957.97 L1736 1955.18 L1738 1952.36 L1740 1949.52 L1742 1946.66 L1744 1943.77 L1746 1940.87 L1748 1937.95 L1750 1935.02 L1752 1932.08 L1754 1929.14 L1756 1926.19 L1758 1923.24 L1760 1920.29 L1762 1917.35 L1764 1914.42 L1766 1911.49 L1768 1908.58 L1770 1905.68 L1772 1902.8 L1774 1899.93 L1776 1897.07 L1778 1894.23 L1780 1891.41 L1782 1888.6 L1784 1885.81 L1786 1883.04 L1788 1880.29 L1790 1877.56 L1792 1874.84 L1794 1872.15 L1796 1869.47 L1798 1866.82 L1800 1864.19 L1802 1861.59 L1804 1859 L1806 1856.44 L1808 1853.91 L1810 1851.4 L1812 1848.91 L1814 1846.46 L1816 1844.03 L1818 1841.62 L1820 1839.25 L1822 1836.9 L1824 1834.58 L1826 1832.29 L1828 1830.04 L1830 1827.81 L1832 1825.61 L1834 1823.45 L1836 1821.32 L1838 1819.23 L1840 1817.16 L1842 1815.14 L1844 1813.15 L1846 1811.19 L1848 1809.27 L1850 1807.39 L1852 1805.54 L1854 1803.73 L1856 1801.97 L1858 1800.24 L1860 1798.55 L1862 1796.9 L1864 1795.29 L1866 1793.73 L1868 1792.21 L1870 1790.73 L1872 1789.29 L1874 1787.9 L1876 1786.55 L1878 1785.25 L1880 1784 L1882 1782.79 L1884 1781.63 L1886 1780.51 L1888 1779.45 L1890 1778.43 L1892 1777.47 L1894 1776.55 L1896 1775.69 L1898 1774.88 L1900 1774.13 L1902 1773.45 L1904 1772.82 L1906 1772.27 L1908 1771.79 L1910 1771.38 L1912 1771.04 L1914 1770.79 L1916 1770.61 L1918 1770.53 L1920 1770.53 L1922 1770.62 L1924 1770.81 L1926 1771.09 L1928 1771.47 L1930 1771.96 L1932 1772.55 L1934 1773.24 L1936 1774.05 L1938 1774.98 L1940 1776.02 L1942 1777.18 L1944 1778.46 L1946 1779.86 L1948 1781.36 L1950 1782.97 L1952 1784.68 L1954 1786.48 L1956 1788.37 L1958 1790.35 L1960 1792.4 L1962 1794.54 L1964 1796.74 L1966 1799.02 L1968 1801.36 L1970 1803.76 L1972 1806.23 L1974 1808.76 L1976 1811.34 L1978 1813.98 L1980 1816.66 L1982 1819.4 L1984 1822.18 L1986 1825 L1988 1827.86 L1990 1830.77 L1992 1833.7 L1994 1836.67 L1996 1839.67 L1998 1842.69 L1999.2 1844.52" fill="none" stroke="#ff4038" stroke-width="10.8" stroke-linejoin="round" stroke-linecap="round"/>
</g>
<path d="M1323.08 1192 V1201 M1323.08 2067.1 V2058.1 M1548.45 1192 V1201 M1548.45 2067.1 V2058.1 M1773.83 1192 V1201 M1773.83 2067.1 V2058.1 M1097.7 1308.94 H1106.7 M1999.2 1308.94 H1990.2 M1097.7 1425.6 H1106.7 M1999.2 1425.6 H1990.2 M1097.7 1542.26 H1106.7 M1999.2 1542.26 H1990.2 M1097.7 1658.92 H1106.7 M1999.2 1658.92 H1990.2 M1097.7 1775.58 H1106.7 M1999.2 1775.58 H1990.2 M1097.7 1892.24 H1106.7 M1999.2 1892.24 H1990.2 M1097.7 2008.9 H1106.7 M1999.2 2008.9 H1990.2" fill="none" stroke="#bfbfbf" stroke-width="10.3" stroke-linecap="round"/>
<rect x="1097.7" y="1192" width="901.5" height="875.1" fill="none" stroke="#bfbfbf" stroke-width="10.6" stroke-linejoin="round"/>
<text x="1675.08" y="1284.6" font-family='"Liberation Serif","Times New Roman",serif' font-size="73" font-style="italic" fill="#ff9a4a">Q</text>
<text x="1727.81" y="1293" font-family='"Liberation Serif","Times New Roman",serif' font-size="49" font-style="italic" fill="#ff9a4a" textLength="19.67" lengthAdjust="spacingAndGlyphs">5</text>
<text x="1411.48" y="1400.1" font-family='"Liberation Serif","Times New Roman",serif' font-size="73" font-style="italic" fill="#00acc8">Q</text>
<text x="1462.23" y="1407.7" font-family='"Liberation Serif","Times New Roman",serif' font-size="49" fill="#00acc8" textLength="23.16" lengthAdjust="spacingAndGlyphs">6</text>
<text x="1483.48" y="1519.5" font-family='"Liberation Serif","Times New Roman",serif' font-size="73" font-style="italic" fill="#ff9a4a">Q</text>
<text x="1534.47" y="1528.1" font-family='"Liberation Serif","Times New Roman",serif' font-size="49" font-style="italic" fill="#ff9a4a" textLength="20.21" lengthAdjust="spacingAndGlyphs">7</text>
<text x="1740.38" y="1636.7" font-family='"Liberation Serif","Times New Roman",serif' font-size="73" font-style="italic" fill="#00acc8">Q</text>
<text x="1792.15" y="1645.5" font-family='"Liberation Serif","Times New Roman",serif' font-size="49" fill="#00acc8" textLength="22" lengthAdjust="spacingAndGlyphs">8</text>
<text x="1275.3" y="1812.9" font-family='"Liberation Serif","Times New Roman",serif' font-size="71" font-style="italic" fill="#e83000">i</text>
<text x="1294.34" y="1822.7" font-family='"Liberation Serif","Times New Roman",serif' font-size="48" fill="#e83000">2</text>
<text x="1645.63" y="1819.6" font-family='"Liberation Serif","Times New Roman",serif' font-size="71" font-style="italic" fill="#10a850">v</text>
<text x="1672.44" y="1828.8" font-family='"Liberation Serif","Times New Roman",serif' font-size="48" fill="#10a850">2</text>
<path d="M1501.72 1746.5 H1632.28 M1519.72 1728.5 L1501.72 1746.5 L1519.72 1764.5 M1614.28 1728.5 L1632.28 1746.5 L1614.28 1764.5" fill="none" stroke="#000" stroke-width="5.4" stroke-linecap="round" stroke-linejoin="miter"/>
<text x="1532.33" y="1733.6" font-family='"Liberation Serif","Times New Roman",serif' font-size="71.5" fill="#000" textLength="97.97" lengthAdjust="spacingAndGlyphs">90°</text>
<text x="1082.5" y="2130.3" font-family='"Liberation Sans",Arial,sans-serif' font-size="54" fill="#404040">0</text>
<text x="1310.46" y="2130.3" font-family='"Liberation Sans",Arial,sans-serif' font-size="54" fill="#404040">5</text>
<text x="1513.07" y="2130.3" font-family='"Liberation Sans",Arial,sans-serif' font-size="54" fill="#404040">10</text>
<text x="1741.39" y="2130.3" font-family='"Liberation Sans",Arial,sans-serif' font-size="54" fill="#404040">15</text>
<text x="1960.79" y="2130.3" font-family='"Liberation Sans",Arial,sans-serif' font-size="54" fill="#404040">20</text>
<text x="1051.53" y="1801" font-family='"Liberation Sans",Arial,sans-serif' font-size="54" fill="#404040">2</text>
<text x="1051.46" y="1917" font-family='"Liberation Sans",Arial,sans-serif' font-size="54" fill="#404040">0</text>
<text x="1029.38" y="2025.5" font-family='"Liberation Sans",Arial,sans-serif' font-size="54" fill="#404040">-2</text>
<text x="1415.88" y="2223.9" font-family='"Liberation Serif","Times New Roman",serif' font-size="71" fill="#000" textLength="258.7" lengthAdjust="spacingAndGlyphs">Time(µs)</text>
<text y="2310.4" font-family='"Liberation Serif","Times New Roman",serif' font-size="71" fill="#000"><tspan x="1493.01">(</tspan><tspan x="1518.54" font-weight="bold">d</tspan><tspan x="1559.91">)</tspan></text>
</svg>
</body>
</html>
